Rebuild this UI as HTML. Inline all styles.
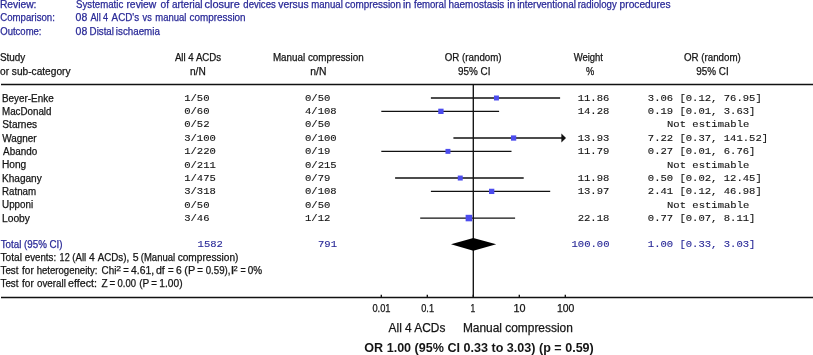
<!DOCTYPE html>
<html><head><meta charset="utf-8"><title>Forest plot</title>
<style>html,body{margin:0;padding:0;background:#fff;overflow:hidden}svg{display:block}</style></head>
<body><svg width="813" height="355" viewBox="0 0 813 355">
<rect width="813" height="355" fill="#fff"/>
<text x="-0.12" y="7.60" font-family="'Liberation Sans',sans-serif" font-size="10" fill="#2a2a98" stroke="#2a2a98" stroke-width="0.25" textLength="36.57" lengthAdjust="spacingAndGlyphs">Review:</text>
<text x="0.22" y="21.15" font-family="'Liberation Sans',sans-serif" font-size="10" fill="#2a2a98" stroke="#2a2a98" stroke-width="0.25" textLength="54.69" lengthAdjust="spacingAndGlyphs">Comparison:</text>
<text x="0.27" y="34.90" font-family="'Liberation Sans',sans-serif" font-size="10" fill="#2a2a98" stroke="#2a2a98" stroke-width="0.25" textLength="41.23" lengthAdjust="spacingAndGlyphs">Outcome:</text>
<text y="7.60" font-family="'Liberation Sans',sans-serif" font-size="10" fill="#2a2a98" stroke="#2a2a98" stroke-width="0.25"><tspan x="76.07" y="7.60" textLength="47.18" lengthAdjust="spacingAndGlyphs">Systematic</tspan> <tspan x="126.43" y="7.60" textLength="29.92" lengthAdjust="spacingAndGlyphs">review</tspan> <tspan x="160.49" y="7.60" textLength="8.50" lengthAdjust="spacingAndGlyphs">of</tspan> <tspan x="172.00" y="7.60" textLength="30.46" lengthAdjust="spacingAndGlyphs">arterial</tspan> <tspan x="204.46" y="7.60" textLength="35.42" lengthAdjust="spacingAndGlyphs">closure</tspan> <tspan x="243.32" y="7.60" textLength="32.42" lengthAdjust="spacingAndGlyphs">devices</tspan> <tspan x="278.25" y="7.60" textLength="30.42" lengthAdjust="spacingAndGlyphs">versus</tspan> <tspan x="311.17" y="7.60" textLength="31.65" lengthAdjust="spacingAndGlyphs">manual</tspan> <tspan x="345.00" y="7.60" textLength="56.13" lengthAdjust="spacingAndGlyphs">compression</tspan> <tspan x="403.02" y="7.60" textLength="8.09" lengthAdjust="spacingAndGlyphs">in</tspan> <tspan x="413.96" y="7.60" textLength="32.11" lengthAdjust="spacingAndGlyphs">femoral</tspan> <tspan x="448.50" y="7.60" textLength="55.83" lengthAdjust="spacingAndGlyphs">haemostasis</tspan> <tspan x="507.22" y="7.60" textLength="8.09" lengthAdjust="spacingAndGlyphs">in</tspan> <tspan x="517.16" y="7.60" textLength="58.82" lengthAdjust="spacingAndGlyphs">interventional</tspan> <tspan x="577.67" y="7.60" textLength="39.11" lengthAdjust="spacingAndGlyphs">radiology</tspan> <tspan x="619.64" y="7.60" textLength="51.00" lengthAdjust="spacingAndGlyphs">procedures</tspan></text>
<text y="21.15" font-family="'Liberation Sans',sans-serif" font-size="10" fill="#2a2a98" stroke="#2a2a98" stroke-width="0.25"><tspan x="75.58" y="21.15" textLength="11.66" lengthAdjust="spacingAndGlyphs">08</tspan> <tspan x="90.40" y="21.15" textLength="10.32" lengthAdjust="spacingAndGlyphs">All</tspan> <tspan x="103.02" y="21.15" textLength="5.07" lengthAdjust="spacingAndGlyphs">4</tspan> <tspan x="111.60" y="21.15" textLength="27.57" lengthAdjust="spacingAndGlyphs">ACD's</tspan> <tspan x="142.55" y="21.15" textLength="9.17" lengthAdjust="spacingAndGlyphs">vs</tspan> <tspan x="155.28" y="21.15" textLength="31.13" lengthAdjust="spacingAndGlyphs">manual</tspan> <tspan x="189.60" y="21.15" textLength="56.03" lengthAdjust="spacingAndGlyphs">compression</tspan></text>
<text y="34.90" font-family="'Liberation Sans',sans-serif" font-size="10" fill="#2a2a98" stroke="#2a2a98" stroke-width="0.25"><tspan x="75.58" y="34.90" textLength="11.66" lengthAdjust="spacingAndGlyphs">08</tspan> <tspan x="89.62" y="34.90" textLength="24.32" lengthAdjust="spacingAndGlyphs">Distal</tspan> <tspan x="115.87" y="34.90" textLength="43.96" lengthAdjust="spacingAndGlyphs">ischaemia</tspan></text>
<text x="-0.05" y="61.40" font-family="'Liberation Sans',sans-serif" font-size="10" fill="#151515" stroke="#151515" stroke-width="0.25" textLength="25.37" lengthAdjust="spacingAndGlyphs">Study</text>
<text x="-0.01" y="74.70" font-family="'Liberation Sans',sans-serif" font-size="10" fill="#151515" stroke="#151515" stroke-width="0.25" textLength="70.49" lengthAdjust="spacingAndGlyphs">or sub-category</text>
<text x="174.90" y="61.40" font-family="'Liberation Sans',sans-serif" font-size="10" fill="#151515" stroke="#151515" stroke-width="0.25" textLength="46.33" lengthAdjust="spacingAndGlyphs">All 4 ACDs</text>
<text x="189.94" y="74.70" font-family="'Liberation Sans',sans-serif" font-size="10" fill="#151515" stroke="#151515" stroke-width="0.25" textLength="15.78" lengthAdjust="spacingAndGlyphs">n/N</text>
<text x="272.91" y="61.40" font-family="'Liberation Sans',sans-serif" font-size="10" fill="#151515" stroke="#151515" stroke-width="0.25" textLength="90.74" lengthAdjust="spacingAndGlyphs">Manual compression</text>
<text x="310.33" y="74.70" font-family="'Liberation Sans',sans-serif" font-size="10" fill="#151515" stroke="#151515" stroke-width="0.25" textLength="16.11" lengthAdjust="spacingAndGlyphs">n/N</text>
<text x="444.76" y="61.40" font-family="'Liberation Sans',sans-serif" font-size="10" fill="#151515" stroke="#151515" stroke-width="0.25" textLength="56.87" lengthAdjust="spacingAndGlyphs">OR (random)</text>
<text x="458.06" y="74.70" font-family="'Liberation Sans',sans-serif" font-size="10" fill="#151515" stroke="#151515" stroke-width="0.25" textLength="32.38" lengthAdjust="spacingAndGlyphs">95% CI</text>
<text x="573.65" y="61.40" font-family="'Liberation Sans',sans-serif" font-size="10" fill="#151515" stroke="#151515" stroke-width="0.25" textLength="29.34" lengthAdjust="spacingAndGlyphs">Weight</text>
<text x="585.88" y="74.70" font-family="'Liberation Sans',sans-serif" font-size="10" fill="#151515" stroke="#151515" stroke-width="0.25" textLength="8.24" lengthAdjust="spacingAndGlyphs">%</text>
<text x="683.96" y="61.40" font-family="'Liberation Sans',sans-serif" font-size="10" fill="#151515" stroke="#151515" stroke-width="0.25" textLength="56.87" lengthAdjust="spacingAndGlyphs">OR (random)</text>
<text x="696.36" y="74.70" font-family="'Liberation Sans',sans-serif" font-size="10" fill="#151515" stroke="#151515" stroke-width="0.25" textLength="32.38" lengthAdjust="spacingAndGlyphs">95% CI</text>
<line x1="1" y1="84.5" x2="813" y2="84.5" stroke="#111" stroke-width="1.35"/>
<line x1="1" y1="297.5" x2="813" y2="297.5" stroke="#111" stroke-width="1.35"/>
<line x1="473.3" y1="84.5" x2="473.3" y2="297.5" stroke="#111" stroke-width="1.35"/>
<text x="2.01" y="101.50" font-family="'Liberation Sans',sans-serif" font-size="10" fill="#151515" stroke="#151515" stroke-width="0.25" textLength="51.63" lengthAdjust="spacingAndGlyphs">Beyer-Enke</text>
<text x="184.20" y="100.80" font-family="'Liberation Mono',monospace" font-size="9.6" fill="#151515" stroke="#151515" stroke-width="0.12" textLength="25.32" lengthAdjust="spacingAndGlyphs">1/50</text>
<text x="305.00" y="100.80" font-family="'Liberation Mono',monospace" font-size="9.6" fill="#151515" stroke="#151515" stroke-width="0.12" textLength="25.32" lengthAdjust="spacingAndGlyphs">0/50</text>
<text x="577.70" y="100.80" font-family="'Liberation Mono',monospace" font-size="9.6" fill="#151515" stroke="#151515" stroke-width="0.12" textLength="31.65" lengthAdjust="spacingAndGlyphs">11.86</text>
<text x="647.80" y="100.80" font-family="'Liberation Mono',monospace" font-size="9.6" fill="#151515" stroke="#151515" stroke-width="0.12" textLength="113.94" lengthAdjust="spacingAndGlyphs">3.06 [0.12, 76.95]</text>
<line x1="430.9" y1="98.00" x2="560.1" y2="98.00" stroke="#111" stroke-width="1.35"/>
<rect x="493.96" y="95.52" width="4.96" height="4.96" fill="#4c4cee"/>
<text x="2.02" y="114.84" font-family="'Liberation Sans',sans-serif" font-size="10" fill="#151515" stroke="#151515" stroke-width="0.25" textLength="49.45" lengthAdjust="spacingAndGlyphs">MacDonald</text>
<text x="184.20" y="114.14" font-family="'Liberation Mono',monospace" font-size="9.6" fill="#151515" stroke="#151515" stroke-width="0.12" textLength="25.32" lengthAdjust="spacingAndGlyphs">0/60</text>
<text x="305.00" y="114.14" font-family="'Liberation Mono',monospace" font-size="9.6" fill="#151515" stroke="#151515" stroke-width="0.12" textLength="31.65" lengthAdjust="spacingAndGlyphs">4/108</text>
<text x="577.70" y="114.14" font-family="'Liberation Mono',monospace" font-size="9.6" fill="#151515" stroke="#151515" stroke-width="0.12" textLength="31.65" lengthAdjust="spacingAndGlyphs">14.28</text>
<text x="647.80" y="114.14" font-family="'Liberation Mono',monospace" font-size="9.6" fill="#151515" stroke="#151515" stroke-width="0.12" textLength="107.61" lengthAdjust="spacingAndGlyphs">0.19 [0.01, 3.63]</text>
<line x1="381.3" y1="111.34" x2="499.1" y2="111.34" stroke="#111" stroke-width="1.35"/>
<rect x="438.26" y="108.68" width="5.32" height="5.32" fill="#4c4cee"/>
<text x="2.35" y="128.18" font-family="'Liberation Sans',sans-serif" font-size="10" fill="#151515" stroke="#151515" stroke-width="0.25" textLength="34.82" lengthAdjust="spacingAndGlyphs">Starnes</text>
<text x="184.20" y="127.48" font-family="'Liberation Mono',monospace" font-size="9.6" fill="#151515" stroke="#151515" stroke-width="0.12" textLength="25.32" lengthAdjust="spacingAndGlyphs">0/52</text>
<text x="305.00" y="127.48" font-family="'Liberation Mono',monospace" font-size="9.6" fill="#151515" stroke="#151515" stroke-width="0.12" textLength="25.32" lengthAdjust="spacingAndGlyphs">0/50</text>
<text x="667.00" y="127.48" font-family="'Liberation Mono',monospace" font-size="9.6" fill="#151515" stroke="#151515" stroke-width="0.12" textLength="82.29" lengthAdjust="spacingAndGlyphs">Not estimable</text>
<text x="2.35" y="141.52" font-family="'Liberation Sans',sans-serif" font-size="10" fill="#151515" stroke="#151515" stroke-width="0.25" textLength="34.34" lengthAdjust="spacingAndGlyphs">Wagner</text>
<text x="184.20" y="140.82" font-family="'Liberation Mono',monospace" font-size="9.6" fill="#151515" stroke="#151515" stroke-width="0.12" textLength="31.65" lengthAdjust="spacingAndGlyphs">3/100</text>
<text x="305.00" y="140.82" font-family="'Liberation Mono',monospace" font-size="9.6" fill="#151515" stroke="#151515" stroke-width="0.12" textLength="31.65" lengthAdjust="spacingAndGlyphs">0/100</text>
<text x="577.70" y="140.82" font-family="'Liberation Mono',monospace" font-size="9.6" fill="#151515" stroke="#151515" stroke-width="0.12" textLength="31.65" lengthAdjust="spacingAndGlyphs">13.93</text>
<text x="647.80" y="140.82" font-family="'Liberation Mono',monospace" font-size="9.6" fill="#151515" stroke="#151515" stroke-width="0.12" textLength="120.27" lengthAdjust="spacingAndGlyphs">7.22 [0.37, 141.52]</text>
<line x1="453.4" y1="138.02" x2="563.0" y2="138.02" stroke="#111" stroke-width="1.35"/>
<polygon points="566.0,138.02 561.4,133.62 561.4,142.42" fill="#111"/>
<rect x="510.96" y="135.39" width="5.27" height="5.27" fill="#4c4cee"/>
<text x="3.10" y="154.86" font-family="'Liberation Sans',sans-serif" font-size="10" fill="#151515" stroke="#151515" stroke-width="0.25" textLength="34.12" lengthAdjust="spacingAndGlyphs">Abando</text>
<text x="184.20" y="154.16" font-family="'Liberation Mono',monospace" font-size="9.6" fill="#151515" stroke="#151515" stroke-width="0.12" textLength="31.65" lengthAdjust="spacingAndGlyphs">1/220</text>
<text x="305.00" y="154.16" font-family="'Liberation Mono',monospace" font-size="9.6" fill="#151515" stroke="#151515" stroke-width="0.12" textLength="25.32" lengthAdjust="spacingAndGlyphs">0/19</text>
<text x="577.70" y="154.16" font-family="'Liberation Mono',monospace" font-size="9.6" fill="#151515" stroke="#151515" stroke-width="0.12" textLength="31.65" lengthAdjust="spacingAndGlyphs">11.79</text>
<text x="647.80" y="154.16" font-family="'Liberation Mono',monospace" font-size="9.6" fill="#151515" stroke="#151515" stroke-width="0.12" textLength="107.61" lengthAdjust="spacingAndGlyphs">0.27 [0.01, 6.76]</text>
<line x1="381.3" y1="151.36" x2="511.5" y2="151.36" stroke="#111" stroke-width="1.35"/>
<rect x="445.47" y="148.89" width="4.95" height="4.95" fill="#4c4cee"/>
<text x="1.99" y="168.20" font-family="'Liberation Sans',sans-serif" font-size="10" fill="#151515" stroke="#151515" stroke-width="0.25" textLength="24.28" lengthAdjust="spacingAndGlyphs">Hong</text>
<text x="184.20" y="167.50" font-family="'Liberation Mono',monospace" font-size="9.6" fill="#151515" stroke="#151515" stroke-width="0.12" textLength="31.65" lengthAdjust="spacingAndGlyphs">0/211</text>
<text x="305.00" y="167.50" font-family="'Liberation Mono',monospace" font-size="9.6" fill="#151515" stroke="#151515" stroke-width="0.12" textLength="31.65" lengthAdjust="spacingAndGlyphs">0/215</text>
<text x="667.00" y="167.50" font-family="'Liberation Mono',monospace" font-size="9.6" fill="#151515" stroke="#151515" stroke-width="0.12" textLength="82.29" lengthAdjust="spacingAndGlyphs">Not estimable</text>
<text x="1.99" y="181.54" font-family="'Liberation Sans',sans-serif" font-size="10" fill="#151515" stroke="#151515" stroke-width="0.25" textLength="39.78" lengthAdjust="spacingAndGlyphs">Khagany</text>
<text x="184.20" y="180.84" font-family="'Liberation Mono',monospace" font-size="9.6" fill="#151515" stroke="#151515" stroke-width="0.12" textLength="31.65" lengthAdjust="spacingAndGlyphs">1/475</text>
<text x="305.00" y="180.84" font-family="'Liberation Mono',monospace" font-size="9.6" fill="#151515" stroke="#151515" stroke-width="0.12" textLength="25.32" lengthAdjust="spacingAndGlyphs">0/79</text>
<text x="577.70" y="180.84" font-family="'Liberation Mono',monospace" font-size="9.6" fill="#151515" stroke="#151515" stroke-width="0.12" textLength="31.65" lengthAdjust="spacingAndGlyphs">11.98</text>
<text x="647.80" y="180.84" font-family="'Liberation Mono',monospace" font-size="9.6" fill="#151515" stroke="#151515" stroke-width="0.12" textLength="113.94" lengthAdjust="spacingAndGlyphs">0.50 [0.02, 12.45]</text>
<line x1="395.1" y1="178.04" x2="523.7" y2="178.04" stroke="#111" stroke-width="1.35"/>
<rect x="457.76" y="175.55" width="4.98" height="4.98" fill="#4c4cee"/>
<text x="2.02" y="194.88" font-family="'Liberation Sans',sans-serif" font-size="10" fill="#151515" stroke="#151515" stroke-width="0.25" textLength="34.08" lengthAdjust="spacingAndGlyphs">Ratnam</text>
<text x="184.20" y="194.18" font-family="'Liberation Mono',monospace" font-size="9.6" fill="#151515" stroke="#151515" stroke-width="0.12" textLength="31.65" lengthAdjust="spacingAndGlyphs">3/318</text>
<text x="305.00" y="194.18" font-family="'Liberation Mono',monospace" font-size="9.6" fill="#151515" stroke="#151515" stroke-width="0.12" textLength="31.65" lengthAdjust="spacingAndGlyphs">0/108</text>
<text x="577.70" y="194.18" font-family="'Liberation Mono',monospace" font-size="9.6" fill="#151515" stroke="#151515" stroke-width="0.12" textLength="31.65" lengthAdjust="spacingAndGlyphs">13.97</text>
<text x="647.80" y="194.18" font-family="'Liberation Mono',monospace" font-size="9.6" fill="#151515" stroke="#151515" stroke-width="0.12" textLength="113.94" lengthAdjust="spacingAndGlyphs">2.41 [0.12, 46.98]</text>
<line x1="430.9" y1="191.38" x2="550.2" y2="191.38" stroke="#111" stroke-width="1.35"/>
<rect x="489.04" y="188.74" width="5.28" height="5.28" fill="#4c4cee"/>
<text x="2.06" y="208.22" font-family="'Liberation Sans',sans-serif" font-size="10" fill="#151515" stroke="#151515" stroke-width="0.25" textLength="31.11" lengthAdjust="spacingAndGlyphs">Upponi</text>
<text x="184.20" y="207.52" font-family="'Liberation Mono',monospace" font-size="9.6" fill="#151515" stroke="#151515" stroke-width="0.12" textLength="25.32" lengthAdjust="spacingAndGlyphs">0/50</text>
<text x="305.00" y="207.52" font-family="'Liberation Mono',monospace" font-size="9.6" fill="#151515" stroke="#151515" stroke-width="0.12" textLength="25.32" lengthAdjust="spacingAndGlyphs">0/50</text>
<text x="667.00" y="207.52" font-family="'Liberation Mono',monospace" font-size="9.6" fill="#151515" stroke="#151515" stroke-width="0.12" textLength="82.29" lengthAdjust="spacingAndGlyphs">Not estimable</text>
<text x="1.98" y="221.56" font-family="'Liberation Sans',sans-serif" font-size="10" fill="#151515" stroke="#151515" stroke-width="0.25" textLength="28.02" lengthAdjust="spacingAndGlyphs">Looby</text>
<text x="184.20" y="220.86" font-family="'Liberation Mono',monospace" font-size="9.6" fill="#151515" stroke="#151515" stroke-width="0.12" textLength="25.32" lengthAdjust="spacingAndGlyphs">3/46</text>
<text x="305.00" y="220.86" font-family="'Liberation Mono',monospace" font-size="9.6" fill="#151515" stroke="#151515" stroke-width="0.12" textLength="25.32" lengthAdjust="spacingAndGlyphs">1/12</text>
<text x="577.70" y="220.86" font-family="'Liberation Mono',monospace" font-size="9.6" fill="#151515" stroke="#151515" stroke-width="0.12" textLength="31.65" lengthAdjust="spacingAndGlyphs">22.18</text>
<text x="647.80" y="220.86" font-family="'Liberation Mono',monospace" font-size="9.6" fill="#151515" stroke="#151515" stroke-width="0.12" textLength="107.61" lengthAdjust="spacingAndGlyphs">0.77 [0.07, 8.11]</text>
<line x1="420.2" y1="218.06" x2="515.1" y2="218.06" stroke="#111" stroke-width="1.35"/>
<rect x="465.63" y="214.81" width="6.51" height="6.51" fill="#4c4cee"/>
<text x="0.70" y="247.50" font-family="'Liberation Sans',sans-serif" font-size="10" fill="#2a2a98" stroke="#2a2a98" stroke-width="0.25" textLength="61.89" lengthAdjust="spacingAndGlyphs">Total (95% CI)</text>
<text x="197.60" y="247.20" font-family="'Liberation Mono',monospace" font-size="9.6" fill="#2a2a98" stroke="#2a2a98" stroke-width="0.12" textLength="25.32" lengthAdjust="spacingAndGlyphs">1582</text>
<text x="318.00" y="247.20" font-family="'Liberation Mono',monospace" font-size="9.6" fill="#2a2a98" stroke="#2a2a98" stroke-width="0.12" textLength="18.99" lengthAdjust="spacingAndGlyphs">791</text>
<text x="571.50" y="247.20" font-family="'Liberation Mono',monospace" font-size="9.6" fill="#2a2a98" stroke="#2a2a98" stroke-width="0.12" textLength="37.98" lengthAdjust="spacingAndGlyphs">100.00</text>
<text x="647.80" y="247.20" font-family="'Liberation Mono',monospace" font-size="9.6" fill="#2a2a98" stroke="#2a2a98" stroke-width="0.12" textLength="107.61" lengthAdjust="spacingAndGlyphs">1.00 [0.33, 3.03]</text>
<polygon points="451,244.3 473.3,237.9 496.2,244.3 473.3,250.70000000000002" fill="#000"/>
<text y="260.70" font-family="'Liberation Sans',sans-serif" font-size="10" fill="#151515" stroke="#151515" stroke-width="0.25"><tspan x="0.50" y="260.70" textLength="21.49" lengthAdjust="spacingAndGlyphs">Total</tspan> <tspan x="24.81" y="260.70" textLength="31.30" lengthAdjust="spacingAndGlyphs">events:</tspan> <tspan x="59.62" y="260.70" textLength="10.05" lengthAdjust="spacingAndGlyphs">12</tspan> <tspan x="72.32" y="260.70" textLength="13.95" lengthAdjust="spacingAndGlyphs">(All</tspan> <tspan x="89.09" y="260.70" textLength="5.73" lengthAdjust="spacingAndGlyphs">4</tspan> <tspan x="97.70" y="260.70" textLength="31.55" lengthAdjust="spacingAndGlyphs">ACDs),</tspan> <tspan x="132.78" y="260.70" textLength="5.85" lengthAdjust="spacingAndGlyphs">5</tspan> <tspan x="140.83" y="260.70" textLength="34.21" lengthAdjust="spacingAndGlyphs">(Manual</tspan> <tspan x="177.70" y="260.70" textLength="60.73" lengthAdjust="spacingAndGlyphs">compression)</tspan></text>
<text y="274.00" font-family="'Liberation Sans',sans-serif" font-size="10" fill="#151515" stroke="#151515" stroke-width="0.25"><tspan x="0.50" y="274.00" textLength="17.98" lengthAdjust="spacingAndGlyphs">Test</tspan> <tspan x="22.05" y="274.00" textLength="11.72" lengthAdjust="spacingAndGlyphs">for</tspan> <tspan x="36.73" y="274.00" textLength="60.66" lengthAdjust="spacingAndGlyphs">heterogeneity:</tspan> <tspan x="101.61" y="274.00" textLength="14.84" lengthAdjust="spacingAndGlyphs">Chi</tspan><tspan x="116.17" y="271.30" font-size="7.5" textLength="4.77" lengthAdjust="spacingAndGlyphs">2</tspan> <tspan x="123.23" y="274.00" textLength="5.54" lengthAdjust="spacingAndGlyphs">=</tspan> <tspan x="131.09" y="274.00" textLength="23.03" lengthAdjust="spacingAndGlyphs">4.61,</tspan> <tspan x="155.98" y="274.00" textLength="8.81" lengthAdjust="spacingAndGlyphs">df</tspan> <tspan x="167.92" y="274.00" textLength="5.66" lengthAdjust="spacingAndGlyphs">=</tspan> <tspan x="176.08" y="274.00" textLength="5.74" lengthAdjust="spacingAndGlyphs">6</tspan> <tspan x="184.36" y="274.00" textLength="10.67" lengthAdjust="spacingAndGlyphs">(P</tspan> <tspan x="197.22" y="274.00" textLength="5.66" lengthAdjust="spacingAndGlyphs">=</tspan> <tspan x="205.71" y="274.00" textLength="24.73" lengthAdjust="spacingAndGlyphs">0.59),</tspan> <tspan x="230.66" y="274.00" textLength="3.51" lengthAdjust="spacingAndGlyphs">I</tspan><tspan x="233.43" y="271.30" font-size="7.5" textLength="4.16" lengthAdjust="spacingAndGlyphs">2</tspan> <tspan x="240.56" y="274.00" textLength="5.18" lengthAdjust="spacingAndGlyphs">=</tspan> <tspan x="247.80" y="274.00" textLength="14.35" lengthAdjust="spacingAndGlyphs">0%</tspan></text>
<text y="287.30" font-family="'Liberation Sans',sans-serif" font-size="10" fill="#151515" stroke="#151515" stroke-width="0.25"><tspan x="0.50" y="287.30" textLength="17.98" lengthAdjust="spacingAndGlyphs">Test</tspan> <tspan x="22.05" y="287.30" textLength="11.72" lengthAdjust="spacingAndGlyphs">for</tspan> <tspan x="37.01" y="287.30" textLength="28.84" lengthAdjust="spacingAndGlyphs">overall</tspan> <tspan x="68.07" y="287.30" textLength="28.89" lengthAdjust="spacingAndGlyphs">effect:</tspan> <tspan x="101.40" y="287.30" textLength="6.11" lengthAdjust="spacingAndGlyphs">Z</tspan> <tspan x="109.62" y="287.30" textLength="5.66" lengthAdjust="spacingAndGlyphs">=</tspan> <tspan x="117.62" y="287.30" textLength="18.42" lengthAdjust="spacingAndGlyphs">0.00</tspan> <tspan x="139.21" y="287.30" textLength="9.89" lengthAdjust="spacingAndGlyphs">(P</tspan> <tspan x="151.22" y="287.30" textLength="5.66" lengthAdjust="spacingAndGlyphs">=</tspan> <tspan x="159.34" y="287.30" textLength="23.22" lengthAdjust="spacingAndGlyphs">1.00)</tspan></text>
<line x1="381.30" y1="294.7" x2="381.30" y2="297.5" stroke="#111" stroke-width="1.35"/>
<text x="372.38" y="312.20" font-family="'Liberation Sans',sans-serif" font-size="10" fill="#151515" stroke="#151515" stroke-width="0.25" textLength="18.10" lengthAdjust="spacingAndGlyphs">0.01</text>
<line x1="427.30" y1="294.7" x2="427.30" y2="297.5" stroke="#111" stroke-width="1.35"/>
<text x="421.23" y="312.20" font-family="'Liberation Sans',sans-serif" font-size="10" fill="#151515" stroke="#151515" stroke-width="0.25" textLength="12.78" lengthAdjust="spacingAndGlyphs">0.1</text>
<line x1="473.30" y1="294.7" x2="473.30" y2="297.5" stroke="#111" stroke-width="1.35"/>
<text x="470.51" y="312.20" font-family="'Liberation Sans',sans-serif" font-size="10" fill="#151515" stroke="#151515" stroke-width="0.25" textLength="4.73" lengthAdjust="spacingAndGlyphs">1</text>
<line x1="519.30" y1="294.7" x2="519.30" y2="297.5" stroke="#111" stroke-width="1.35"/>
<text x="513.59" y="312.20" font-family="'Liberation Sans',sans-serif" font-size="10" fill="#151515" stroke="#151515" stroke-width="0.25" textLength="12.01" lengthAdjust="spacingAndGlyphs">10</text>
<line x1="565.30" y1="294.7" x2="565.30" y2="297.5" stroke="#111" stroke-width="1.35"/>
<text x="556.92" y="312.20" font-family="'Liberation Sans',sans-serif" font-size="10" fill="#151515" stroke="#151515" stroke-width="0.25" textLength="17.38" lengthAdjust="spacingAndGlyphs">100</text>
<text x="388.60" y="331.70" font-family="'Liberation Sans',sans-serif" font-size="12" fill="#151515" stroke="#151515" stroke-width="0.25" textLength="56.81" lengthAdjust="spacingAndGlyphs">All 4 ACDs</text>
<text x="462.95" y="331.70" font-family="'Liberation Sans',sans-serif" font-size="12" fill="#151515" stroke="#151515" stroke-width="0.25" textLength="109.85" lengthAdjust="spacingAndGlyphs">Manual compression</text>
<text x="364.30" y="352.30" font-family="'Liberation Sans',sans-serif" font-size="12.5" fill="#151515" font-weight="bold" textLength="229.51" lengthAdjust="spacingAndGlyphs">OR 1.00 (95% CI 0.33 to 3.03) (p = 0.59)</text>
</svg></body></html>
